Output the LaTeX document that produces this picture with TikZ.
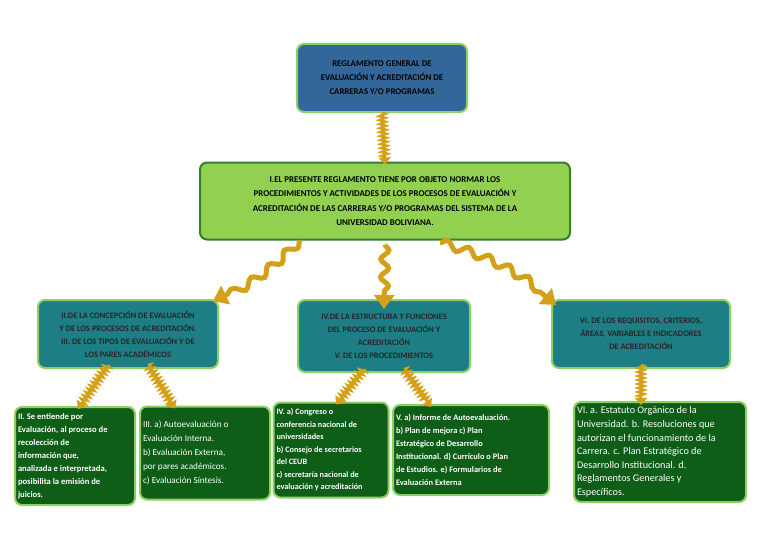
\documentclass[tikz,border=0pt]{standalone}
\usepackage{fontspec}
\setmainfont{Carlito}
\usetikzlibrary{decorations.pathmorphing,arrows.meta}
\definecolor{gold}{HTML}{D4A017}
\definecolor{teal}{HTML}{1E7E86}
\definecolor{dgreen}{HTML}{0E5E17}
\definecolor{lgreen}{HTML}{92D050}
\definecolor{bgreen}{HTML}{8CD064}
\definecolor{topblue}{HTML}{33679A}
\begin{document}
\begin{tikzpicture}[x=1pt,y=-1pt,
  box/.style={draw=bgreen,line width=2pt,rounded corners=7pt,align=center,inner sep=3pt,font=\bfseries},
  tealbox/.style={box,fill=teal,text=black!85,font=\fontsize{8.4}{13}\selectfont\bfseries},
  gbox/.style={box,fill=dgreen,text=white,align=flush left,font=\fontsize{8.6}{13}\selectfont\bfseries},
  zz/.style={draw=gold,line width=2.5pt,-{Triangle[length=7pt,width=12pt]},decorate,decoration={zigzag,amplitude=3pt,segment length=4pt,post length=7pt}},
  curvy/.style={draw=gold,line width=5pt,-{Triangle[length=14pt,width=20pt]},decorate,decoration={snake,amplitude=4pt,segment length=22pt,post length=12pt}}]
\useasboundingbox (0,0) rectangle (768,543);
\node[box,fill=topblue,text=black,minimum width=170pt,minimum height=68pt,font=\fontsize{8.8}{14}\selectfont\bfseries] (top) at (382,78) {REGLAMENTO GENERAL DE\\EVALUACIÓN Y ACREDITACIÓN DE\\CARRERAS Y/O PROGRAMAS};
\node[box,draw=dgreen!70!bgreen,fill=lgreen,text=black,minimum width=370pt,minimum height=77pt,font=\fontsize{8.9}{14.5}\selectfont\bfseries] (main) at (385,201) {I.EL PRESENTE REGLAMENTO TIENE POR OBJETO NORMAR LOS\\PROCEDIMIENTOS Y ACTIVIDADES DE LOS PROCESOS DE EVALUACIÓN Y\\ACREDITACIÓN DE LAS CARRERAS Y/O PROGRAMAS DEL SISTEMA DE LA\\UNIVERSIDAD BOLIVIANA.};
\node[tealbox,minimum width=180pt,minimum height=68pt] (t1) at (128,334) {II.DE LA CONCEPCIÓN DE EVALUACIÓN\\Y DE LOS PROCESOS DE ACREDITACIÓN.\\III. DE LOS TIPOS DE EVALUACIÓN Y DE\\LOS PARES ACADÉMICOS};
\node[tealbox,minimum width=172pt,minimum height=72pt] (t2) at (384,336) {IV.DE LA ESTRUCTURA Y FUNCIONES\\DEL PROCESO DE EVALUACIÓN Y\\ACREDITACIÓN\\V. DE LOS PROCEDIMIENTOS};
\node[tealbox,minimum width=178pt,minimum height=68pt] (t3) at (641,334) {VI. DE LOS REQUISITOS, CRITERIOS,\\ÁREAS, VARIABLES E INDICADORES\\DE ACREDITACIÓN};
\node[gbox,text width=114pt,minimum height=98pt] (g1) at (75,456) {II. Se entiende por\\Evaluación, al proceso de\\recolección de\\información que,\\analizada e interpretada,\\posibilita la emisión de\\juicios.};
\node[gbox,text width=124pt,minimum height=93pt,font=\fontsize{9.2}{14}\selectfont] (g2) at (205,453) {III. a) Autoevaluación o\\Evaluación Interna.\\b) Evaluación Externa,\\por pares académicos.\\c) Evaluación Síntesis.};
\node[gbox,text width=109pt,minimum height=95pt,font=\fontsize{8.2}{12.5}\selectfont\bfseries] (g3) at (331,450) {IV. a) Congreso o\\conferencia nacional de\\universidades\\b) Consejo de secretarios\\del CEUB\\c) secretaría nacional de\\evaluación y acreditación};
\node[gbox,text width=150pt,minimum height=90pt,font=\fontsize{8.4}{13}\selectfont\bfseries] (g4) at (471,450) {V. a) Informe de Autoevaluación.\\b) Plan de mejora c) Plan\\Estratégico de Desarrollo\\Institucional. d) Currículo o Plan\\de Estudios. e) Formularios de\\Evaluación Externa};
\node[gbox,text width=166pt,minimum height=100pt,font=\fontsize{10.2}{13.6}\selectfont] (g5) at (660,452) {VI. a. Estatuto Orgánico de la\\Universidad. b. Resoluciones que\\autorizan el funcionamiento de la\\Carrera. c. Plan Estratégico de\\Desarrollo Institucional. d.\\Reglamentos Generales y\\Específicos.};
\draw[zz] (top.south) -- ([yshift=-3pt]main.north);
\draw[curvy] ([xshift=-85pt]main.south) to[bend left=10] ([xshift=85pt,yshift=-2pt]t1.north);
\draw[curvy,decoration={snake,amplitude=4pt,segment length=18pt,post length=12pt}] ([yshift=-4pt]main.south) -- ([yshift=-10pt]t2.north);
\draw[curvy] ([xshift=55pt,yshift=-2pt]main.south) to[bend left=12] ([xshift=-85pt,yshift=-6pt]t3.north);
\draw[zz] ([xshift=-20pt,yshift=4pt]t1.south) -- ([xshift=3pt,yshift=-3pt]g1.north);
\draw[zz] ([xshift=20pt,yshift=4pt]t1.south) -- ([xshift=-30pt,yshift=-3pt]g2.north);
\draw[zz] ([xshift=-20pt,yshift=4pt]t2.south) -- ([xshift=5pt,yshift=-3pt]g3.north);
\draw[zz] ([xshift=20pt,yshift=4pt]t2.south) -- ([xshift=-40pt,yshift=-3pt]g4.north);
\draw[zz] ([yshift=4pt]t3.south) -- ([yshift=-4pt]t3.south |- g5.north);
\end{tikzpicture}
\end{document}
